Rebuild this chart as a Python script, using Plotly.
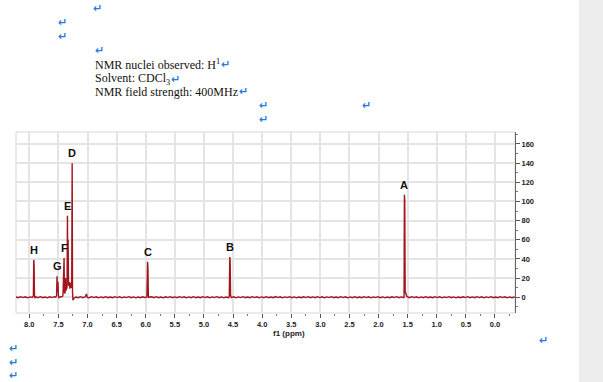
import plotly.graph_objects as go

# ---------------- data ----------------
ppm = [
    8.23, 8.19, 8.15, 8.11, 8.07, 8.03, 7.99, 7.95,
    7.93, 7.924, 7.918, 7.912, 7.905,
    7.89, 7.85, 7.81, 7.77, 7.73, 7.69, 7.65, 7.61, 7.57, 7.545,
    7.532, 7.524, 7.517, 7.508, 7.500, 7.49, 7.46, 7.43,
    7.421, 7.415, 7.410, 7.403, 7.398, 7.386, 7.378, 7.372,
    7.352, 7.345, 7.340, 7.334, 7.326, 7.312, 7.302, 7.292, 7.282, 7.272,
    7.264, 7.258, 7.250, 7.240,
    7.23, 7.20, 7.16, 7.12, 7.08, 7.04, 7.018, 7.012, 7.004,
    6.97, 6.93, 6.89, 6.85, 6.81, 6.77, 6.73, 6.69, 6.65, 6.61, 6.57, 6.53,
    6.49, 6.45, 6.41, 6.37, 6.33, 6.29, 6.25, 6.21, 6.17, 6.13, 6.09, 6.05,
    6.01, 5.98,
    5.968, 5.962, 5.955, 5.948, 5.94,
    5.90, 5.86, 5.82, 5.78, 5.74, 5.70, 5.66, 5.62, 5.58, 5.54, 5.50, 5.46,
    5.42, 5.38, 5.34, 5.30, 5.26, 5.22, 5.18, 5.14, 5.10, 5.06, 5.02, 4.98,
    4.94, 4.90, 4.86, 4.82, 4.78, 4.74, 4.70, 4.66, 4.62, 4.58, 4.565,
    4.556, 4.550, 4.543, 4.536, 4.53,
    4.49, 4.45, 4.41, 4.37, 4.33, 4.29, 4.25, 4.21, 4.17, 4.13, 4.09, 4.05,
    4.01, 3.97, 3.93, 3.89, 3.85, 3.81, 3.77, 3.73, 3.69, 3.65, 3.61, 3.57,
    3.53, 3.49, 3.45, 3.41, 3.37, 3.33, 3.29, 3.25, 3.21, 3.17, 3.13, 3.09,
    3.05, 3.01, 2.97, 2.93, 2.89, 2.85, 2.81, 2.77, 2.73, 2.69, 2.65, 2.61,
    2.57, 2.53, 2.49, 2.45, 2.41, 2.37, 2.33, 2.29, 2.25, 2.21, 2.17, 2.13,
    2.09, 2.05, 2.01, 1.97, 1.93, 1.89, 1.85, 1.81, 1.77, 1.73, 1.69, 1.65,
    1.61, 1.57, 1.562,
    1.556, 1.550, 1.543, 1.535, 1.525, 1.515, 1.50,
    1.47, 1.43, 1.39, 1.35, 1.31, 1.27, 1.23, 1.19, 1.15, 1.11, 1.07, 1.03,
    0.99, 0.95, 0.91, 0.87, 0.83, 0.79, 0.75, 0.71, 0.67, 0.63, 0.59, 0.55,
    0.51, 0.47, 0.43, 0.39, 0.35, 0.31, 0.27, 0.23, 0.19, 0.15, 0.11, 0.07,
    0.03, -0.01, -0.05, -0.09, -0.13, -0.17, -0.21, -0.25, -0.29, -0.34,
]
intensity = [
    0.3, -0.5, 0.6, -0.3, 0.5, -0.6, 0.4, -0.2,
    1.5, 39.0, 34.0, 3.0, -0.8,
    0.5, -0.4, 0.6, -0.5, 0.3, -0.6, 0.5, -0.3, 0.6, 0.2,
    1.5, 22.0, 6.0, 16.0, 2.0, -0.5, 0.6, 1.0,
    3.0, 28.0, 5.0, 41.0, 6.0, 4.0, 20.0, 7.0,
    10.0, 85.0, 18.0, 60.0, 12.0, 16.0, 9.0, 15.0, 10.0, 12.0,
    140.0, 5.0, -3.0, -1.5,
    -1.0, 0.3, -0.5, 0.6, -0.4, 0.5, 3.5, 0.8, -0.2,
    -0.5, 0.6, -0.3, 0.5, -0.6, 0.4, -0.4, 0.6, -0.5, 0.3, -0.4, 0.6,
    -0.3, 0.5, -0.6, 0.4, -0.3, 0.6, -0.5, 0.4, -0.6, 0.3, -0.4, 0.5,
    -0.3, 0.4,
    37.0, 31.0, 1.5, -0.6, 0.2,
    0.5, -0.4, 0.6, -0.5, 0.3, -0.6, 0.5, -0.3, 0.6, -0.4, 0.4, -0.5,
    0.6, -0.3, 0.5, -0.6, 0.4, -0.4, 0.6, -0.5, 0.3, -0.4, 0.6, -0.3,
    0.5, -0.6, 0.4, -0.3, 0.6, -0.5, 0.4, -0.6, 0.3, -0.4, 0.6,
    42.0, 38.0, 2.5, 0.3, -0.4,
    0.5, -0.6, 0.4, -0.3, 0.6, -0.5, 0.3, -0.4, 0.6, -0.3, 0.5, -0.6,
    0.4, -0.4, 0.6, -0.5, 0.3, -0.4, 0.8, -0.3, 0.5, -0.6, 0.4, -0.3,
    0.6, -0.5, 0.4, -0.6, 0.3, -0.4, 0.5, -0.3, 0.6, -0.5, 0.4, -0.4,
    0.6, -0.3, 0.5, -0.6, 0.4, -0.3, 0.6, -0.5, 0.3, -0.4, 0.6, -0.3,
    0.5, -0.6, 0.4, -0.4, 0.6, -0.5, 0.3, -0.4, 0.6, -0.3, 0.5, -0.6,
    0.4, -0.3, 0.6, -0.5, 0.4, -0.6, 0.3, -0.4, 0.5, -0.3, 0.6, -0.5,
    0.4, -0.4, 0.3,
    107.0, 100.0, 6.0, 3.5, 2.5, 1.0, 0.3,
    -0.5, 0.6, -0.3, 0.5, -0.6, 0.4, -0.4, 0.6, -0.5, 0.3, -0.4, 0.6,
    -0.3, 0.5, -0.6, 0.4, -0.3, 0.6, -0.5, 0.4, -0.6, 0.3, -0.4, 0.5,
    -0.3, 0.6, -0.5, 0.4, -0.4, 0.6, -0.3, 0.5, -0.6, 0.4, -0.3, 0.6,
    -0.5, 0.3, -0.4, 0.6, -0.3, 0.5, -0.6, 0.4, -0.4, 0.3,
]

peak_labels = ["H", "G", "F", "E", "D", "C", "B", "A"]
peak_ppm = [7.922, 7.524, 7.403, 7.345, 7.264, 5.968, 4.556, 1.556]
peak_height = [39.0, 22.0, 41.0, 85.0, 140.0, 37.0, 42.0, 107.0]

x_ticks = [8.0, 7.5, 7.0, 6.5, 6.0, 5.5, 5.0, 4.5, 4.0, 3.5, 3.0, 2.5, 2.0, 1.5, 1.0, 0.5, 0.0]
y_ticks = [0, 20, 40, 60, 80, 100, 120, 140, 160]

info_lines = [
    "NMR nuclei observed: H<sup>1</sup>",
    "Solvent: CDCl<sub>3</sub>",
    "NMR field strength: 400MHz",
]

# ---------------- layout geometry (pixels) ----------------
W, H = 603, 382
L, R, T, B = 16, 515, 132, 313   # plot-area edges in pixels


def px(xp):
    return (xp - L) / (R - L)


def py(yp):
    return (B - yp) / (B - T)


fig = go.Figure()
fig.add_trace(go.Scatter(
    x=ppm, y=intensity, mode="lines",
    line=dict(color="#a3141d", width=1.4),
    hoverinfo="skip", showlegend=False,
))

annotations = []
for lab, xv, yv in zip(peak_labels, peak_ppm, peak_height):
    annotations.append(dict(
        x=xv, y=yv, xref="x", yref="y", text=lab, showarrow=False,
        yanchor="middle", xanchor="center", yshift=10,
        font=dict(family="Liberation Sans", size=11, color="#111", weight="bold"),
    ))
# spec-info text
info_y = [65, 79, 92]
for t, yy in zip(info_lines, info_y):
    annotations.append(dict(
        x=px(93), y=py(yy), xref="paper", yref="paper", text=t,
        showarrow=False, xanchor="left", yanchor="middle",
        font=dict(family="Liberation Serif", size=12, color="#111"),
    ))
# paragraph marks of the document
marks = [(97, 8), (62, 22), (62, 36), (99, 50), (225, 65), (175, 79), (243, 92),
         (263, 106), (263, 119), (366, 105), (543, 340), (13, 348), (13, 362), (13, 375)]
for mx, my in marks:
    annotations.append(dict(
        x=px(mx), y=py(my), xref="paper", yref="paper", text="↵",
        showarrow=False, xanchor="center", yanchor="middle",
        font=dict(family="DejaVu Sans", size=11, color="#2a78dc", weight="bold"),
    ))
# x axis title
annotations.append(dict(
    x=px(289), y=py(333), xref="paper", yref="paper", text="f1 (ppm)",
    showarrow=False, xanchor="center", yanchor="middle",
    font=dict(family="Liberation Sans", size=8, color="#222", weight="bold"),
))

shapes = [
    # page edge on the right
    dict(type="rect", xref="paper", yref="paper", x0=px(579), x1=px(610),
         y0=py(390), y1=py(-5), fillcolor="#ededed", line=dict(width=0), layer="below"),
    # light frame of the plot
    dict(type="rect", xref="paper", yref="paper", x0=0, x1=1, y0=0, y1=1,
         line=dict(color="#d6d6d6", width=1), layer="below"),
]

tick_font = dict(family="Liberation Sans", size=7.5, color="#222", weight="bold")

fig.update_layout(
    width=W, height=H,
    margin=dict(l=L, r=W - R, t=T, b=H - B, pad=0),
    paper_bgcolor="white", plot_bgcolor="white",
    annotations=annotations, shapes=shapes,
    xaxis=dict(
        range=[8.229, -0.344], tickvals=x_ticks,
        ticktext=[f"{v:.1f}" for v in x_ticks],
        showgrid=True, gridcolor="#e4e4e4", gridwidth=1.5,
        ticks="outside", ticklen=4, tickcolor="#555", tickwidth=1,
        minor=dict(dtick=0.25, tick0=0, ticks="outside", ticklen=2, tickcolor="#777", showgrid=False),
        showline=False, zeroline=False, tickfont=tick_font,
    ),
    yaxis=dict(
        range=[-16.4, 172.5], tickvals=y_ticks, side="right",
        showgrid=True, gridcolor="#e4e4e4", gridwidth=1.5,
        ticks="outside", ticklen=4, tickcolor="#555", tickwidth=1,
        minor=dict(dtick=10, tick0=0, ticks="outside", ticklen=2, tickcolor="#777", showgrid=False),
        showline=True, linecolor="#666", linewidth=1, zeroline=False, tickfont=tick_font,
    ),
)

fig.write_html("out.html", config={"displayModeBar": False},
               post_script="document.body.style.margin='0px';")
